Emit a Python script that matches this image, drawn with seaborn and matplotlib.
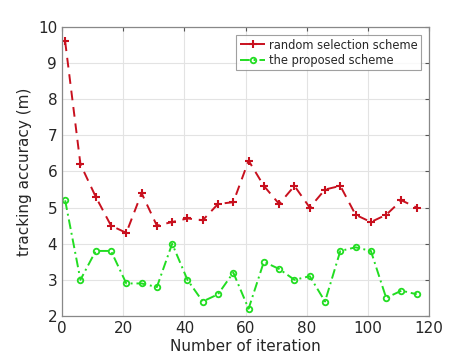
import matplotlib
matplotlib.use("Agg")
import matplotlib.pyplot as plt
import seaborn as sns
import pandas as pd

# dados
iteracao = [1, 6, 11, 16, 21, 26, 31, 36, 41, 46, 51, 56, 61, 66, 71, 76, 81, 86, 91, 96, 101, 106, 111, 116]
random_scheme = [9.6, 6.2, 5.3, 4.5, 4.3, 5.4, 4.5, 4.6, 4.7, 4.65, 5.1, 5.15, 6.3, 5.6, 5.1, 5.6,
                 5.0, 5.5, 5.6, 4.8, 4.6, 4.8, 5.2, 5.0]
proposed_scheme = [5.2, 3.0, 3.8, 3.8, 2.9, 2.9, 2.8, 4.0, 3.0, 2.4, 2.6, 3.2, 2.2, 3.5, 3.3, 3.0,
                   3.1, 2.4, 3.8, 3.9, 3.8, 2.5, 2.7, 2.6]

dados = pd.DataFrame({"iter": iteracao, "random": random_scheme, "proposed": proposed_scheme})

sns.set_style("white")
plt.rcParams['font.family'] = ['DejaVu Sans']

vermelho = "#c8101e"
verde = "#22dd22"

fig = plt.figure(figsize=(4.74, 3.55), dpi=100)
ax = fig.add_axes([0.131, 0.110, 0.774, 0.814])

sns.lineplot(data=dados, x="iter", y="random", ax=ax, color=vermelho, linestyle=(0, (5, 3.5)),
             linewidth=1.4, marker="+", markersize=5.5, markeredgewidth=1.5,
             markeredgecolor=vermelho, markerfacecolor=vermelho,
             label="random selection scheme")
sns.lineplot(data=dados, x="iter", y="proposed", ax=ax, color=verde, linestyle=(0, (5, 2, 1, 2)),
             linewidth=1.4, marker="o", markersize=4, markerfacecolor="none", markeredgewidth=1.3,
             markeredgecolor=verde, label="the proposed scheme")

ax.set_xlim(0, 120)
ax.set_ylim(2, 10)
ax.set_xticks(range(0, 121, 20))
ax.set_yticks(range(2, 11))
ax.grid(True, color="#e3e3e3", linewidth=0.8)
ax.tick_params(direction="in", top=True, right=True, length=3, labelsize=11, color="#555555")
for s in ax.spines.values():
    s.set_color("#888888")
    s.set_linewidth(0.9)
ax.set_xlabel("Number of iteration", fontsize=11, labelpad=2)
ax.set_ylabel("tracking accuracy (m)", fontsize=11, labelpad=4)

leg = ax.legend(loc="upper right", fontsize=8.3, frameon=True, fancybox=False, handlelength=2.2,
                handletextpad=0.3, borderpad=0.3, labelspacing=0.2, borderaxespad=0.7)
leg.get_frame().set_edgecolor("#888888")
leg.get_frame().set_linewidth(0.8)

fig.savefig("out.png", dpi=100)
